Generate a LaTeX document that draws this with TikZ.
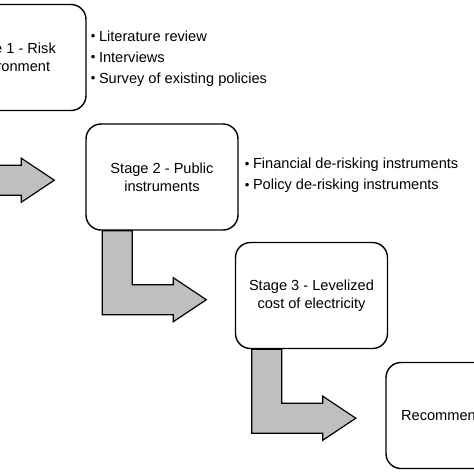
\documentclass[tikz,border=0pt]{standalone}
\usepackage{fontspec}
\setmainfont{Liberation Sans}
\usepackage{tikz}
\usetikzlibrary{calc}

\newcommand{\bul}{\raisebox{0.3pt}{\scalebox{0.9}{•}}\hspace{3.5pt}}

\tikzset{
  stagebox/.style={draw, fill=white, line width=1.4pt, rounded corners=15pt,
    minimum width=152pt, minimum height=106pt, align=center,
    font=\fontsize{14.6}{18}\selectfont},
  bullets/.style={anchor=west, align=left, inner sep=0pt,
    font=\fontsize{14.6}{21}\selectfont},
  bentarrow/.style={draw, line width=1.2pt, fill=gray!50, line join=miter}
}

\begin{document}
\begin{tikzpicture}[x=1pt,y=-1pt]
  \useasboundingbox (0,0) rectangle (474,474);
  \clip (0,0) rectangle (474,474);

  % stages
  \draw (10,57.5) node[stagebox] (s1) {Stage 1 - Risk\\environment};
  \draw (162,177) node[stagebox] (s2) {Stage 2 - Public\\instruments};
  \draw (311.5,295.5) node[stagebox] (s3) {Stage 3 - Levelized\\cost of electricity};
  \draw (462,415.5) node[stagebox] (s4) {Recommendations};

  % methods
  \draw ($(s1.east)+(4,1)$) node[bullets] (m1) {\bul Literature review\\\bul Interviews\\\bul Survey of existing policies};
  \draw ($(s2.east)+(6,-1.5)$) node[bullets] (m2) {\bul Financial de-risking instruments\\\bul Policy de-risking instruments};

  % bent arrows
  \draw[bentarrow] ($(s1.south west)+(17,0)$) -- ++(0,84) -- ++(71,0) -- ++(0,7)
    -- ($(s1.south west)+(121,69)$) -- ++(-33,-22) -- ++(0,7) -- ++(-41,0) -- ($(s1.south west)+(47,0)$) -- cycle;
  \draw[bentarrow] ($(s2.south west)+(17,0)$) -- ++(0,84) -- ++(71,0) -- ++(0,7)
    -- ($(s2.south west)+(121,69)$) -- ++(-33,-22) -- ++(0,7) -- ++(-41,0) -- ($(s2.south west)+(47,0)$) -- cycle;
  \draw[bentarrow] ($(s3.south west)+(17,0)$) -- ++(0,84) -- ++(71,0) -- ++(0,7)
    -- ($(s3.south west)+(121,69)$) -- ++(-33,-22) -- ++(0,7) -- ++(-41,0) -- ($(s3.south west)+(47,0)$) -- cycle;
\end{tikzpicture}
\end{document}
